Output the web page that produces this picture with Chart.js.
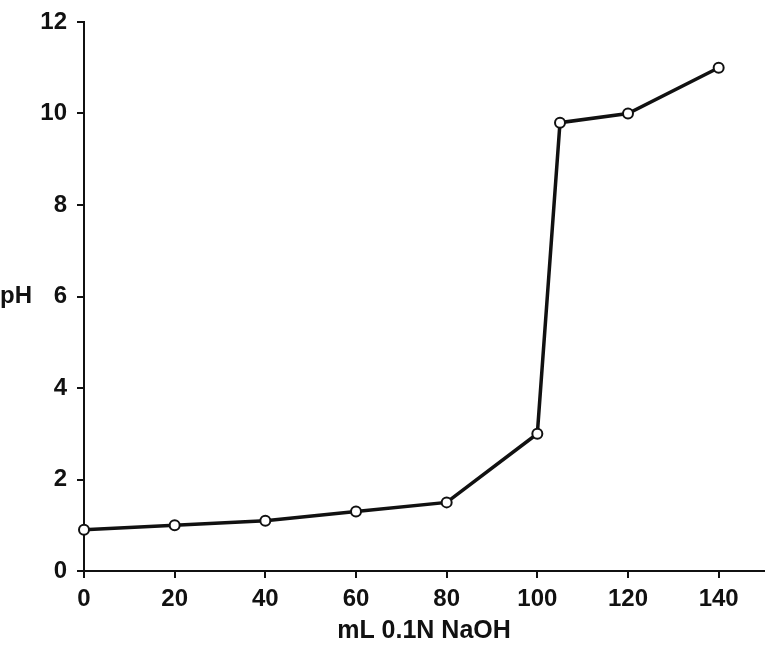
<!DOCTYPE html>
<html>
<head>
<meta charset="utf-8">
<script src="https://cdn.jsdelivr.net/npm/chart.js@4/dist/chart.umd.min.js"></script>
<style>
  html, body { margin: 0; padding: 0; background: #fff; }
  #wrap { width: 771px; height: 646px; }
</style>
</head>
<body>
<div id="wrap"><canvas id="phChart" width="771" height="646"></canvas></div>
<script>
// Titration data: mL of 0.1N NaOH added vs pH
const volumes = [0, 20, 40, 60, 80, 100, 105, 120, 140];
const phValues = [0.9, 1.0, 1.1, 1.3, 1.5, 3.0, 9.8, 10.0, 11.0];

const xTicks = [0, 20, 40, 60, 80, 100, 120, 140];
const yTicks = [0, 2, 4, 6, 8, 10, 12];

const tickFont = { family: 'Liberation Sans, Arial, sans-serif', size: 24, weight: 'bold', lineHeight: 1 };
const titleFont = { family: 'Liberation Sans, Arial, sans-serif', size: 25, weight: 'bold' };

// Draws the horizontal "pH" label next to the y axis
const phLabel = {
    id: 'phLabel',
    afterDraw(chart) {
        const ctx = chart.ctx;
        const y = chart.scales.y.getPixelForValue(6);
        ctx.save();
        ctx.font = 'bold 24px "Liberation Sans", Arial, sans-serif';
        ctx.fillStyle = '#111';
        ctx.textAlign = 'left';
        ctx.textBaseline = 'middle';
        ctx.fillText('pH', 0, y);
        ctx.restore();
    }
};

const points = volumes.map((v, i) => ({ x: v, y: phValues[i] }));

new Chart(document.getElementById('phChart'), {
    type: 'scatter',
    data: {
        datasets: [{
            data: points,
            showLine: true,
            borderColor: '#111',
            borderWidth: 3.5,
            backgroundColor: '#fff',
            pointBorderColor: '#111',
            pointBackgroundColor: '#fff',
            pointBorderWidth: 2,
            pointRadius: 5,
            tension: 0,
            clip: false
        }]
    },
    options: {
        responsive: false,
        animation: false,
        layout: { padding: { top: 17, right: 5, left: 0, bottom: 0 } },
        plugins: {
            legend: { display: false },
            tooltip: { enabled: false }
        },
        scales: {
            x: {
                type: 'linear',
                min: 0,
                max: 150,
                afterBuildTicks: scale => { scale.ticks = xTicks.map(v => ({ value: v })); },
                afterFit: scale => { scale.height = 75; },
                border: { display: true, color: '#111', width: 2 },
                grid: { drawOnChartArea: false, color: '#111', lineWidth: 2, tickLength: 7 },
                ticks: { color: '#111', font: tickFont, padding: 9, maxRotation: 0 },
                title: {
                    display: true,
                    text: 'mL 0.1N NaOH',
                    color: '#111',
                    font: titleFont,
                    padding: { top: 0, bottom: 0 }
                }
            },
            y: {
                min: 0,
                max: 12,
                afterBuildTicks: scale => { scale.ticks = yTicks.map(v => ({ value: v })); },
                afterFit: scale => { scale.width = 84; },
                border: { display: true, color: '#111', width: 2 },
                grid: { drawOnChartArea: false, color: '#111', lineWidth: 2, tickLength: 7 },
                ticks: { color: '#111', font: tickFont, padding: 10 }
            }
        }
    },
    plugins: [phLabel]
});
</script>
</body>
</html>
